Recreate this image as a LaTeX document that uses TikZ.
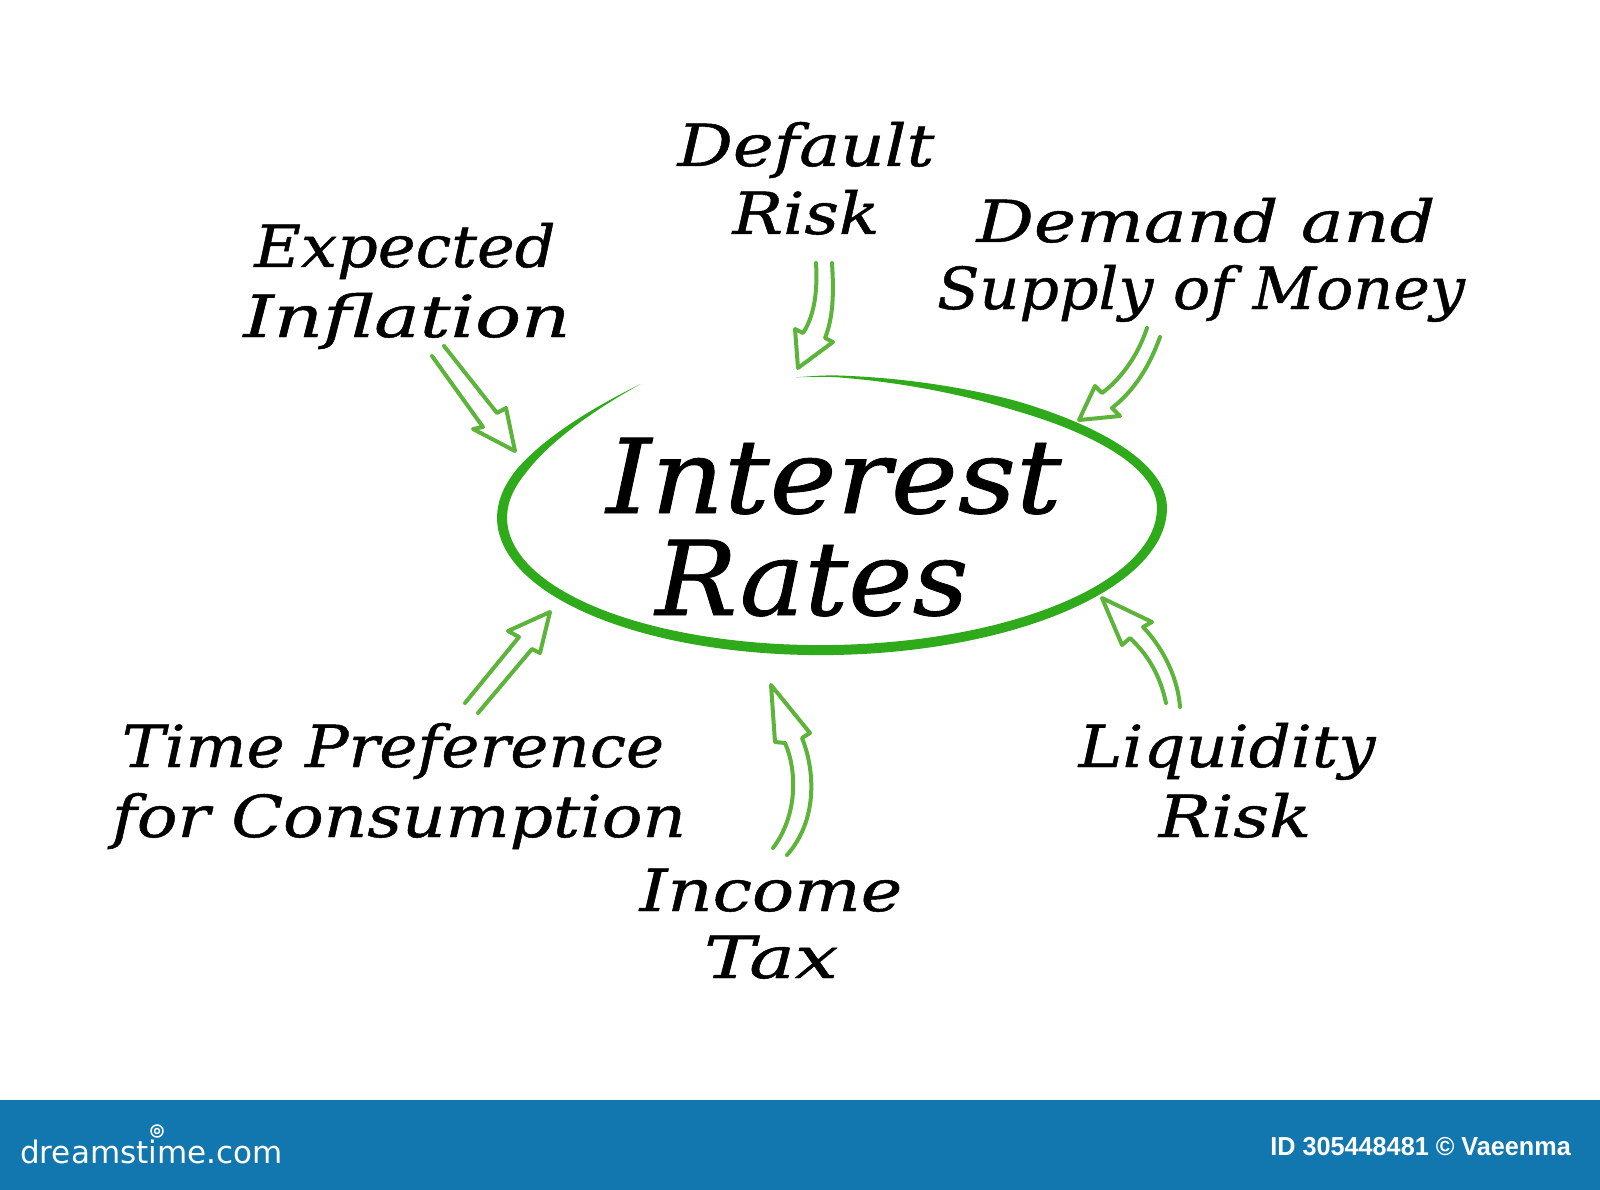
\documentclass[tikz,border=0pt]{standalone}
\usepackage{fontspec}
\setmainfont{DejaVu Serif}
\newfontfamily\handfont{DejaVu Serif}[FakeStretch=1.1,FakeBold=0.8]
\newfontfamily\barfont{Liberation Sans}[FakeStretch=0.97]
\definecolor{ringgreen}{HTML}{2FAA1A}
\definecolor{arrowgreen}{HTML}{5DB43A}
\definecolor{barblue}{HTML}{1177AE}
\tikzset{
  lbl/.style={font=\handfont\itshape\fontsize{58}{70}\selectfont, anchor=base, inner sep=0pt, text=black},
  biglbl/.style={font=\handfont\itshape\fontsize{103}{120}\selectfont, anchor=base, inner sep=0pt, text=black},
  hollow/.style={draw=arrowgreen, line width=4pt, line join=round, line cap=round, fill=white},
  bartext/.style={font=\barfont\bfseries\fontsize{26}{30}\selectfont, text=white, inner sep=0pt}
}
\begin{document}
\begin{tikzpicture}[x=1pt,y=-1pt]
\useasboundingbox (0,0) rectangle (1600,1190);
\fill[white] (0,0) rectangle (1600,1190);

% ring: tapered hand-drawn ellipse
\begin{scope}[rotate around={1:(832,513)}]
\fill[ringgreen]
  plot[domain=-96:235, samples=140, smooth]
   ({832+(330+5*min(1,(\x+96)/40)*min(1,(235-\x)/35))*cos(\x)},
    {513+(137+5*min(1,(\x+96)/40)*min(1,(235-\x)/35))*sin(\x)-20*(max(0,\x-195)/40)^2+20*max(0,-sin(\x))*max(0,cos(\x))})
  -- plot[domain=235:-96, samples=140, smooth]
   ({832+(330-5*min(1,(\x+96)/40)*min(1,(235-\x)/35))*cos(\x)},
    {513+(137-5*min(1,(\x+96)/40)*min(1,(235-\x)/35))*sin(\x)-20*(max(0,\x-195)/40)^2+20*max(0,-sin(\x))*max(0,cos(\x))})
  -- cycle;
\end{scope}

% labels
\node[lbl, xscale=1.08] (def1) at (806,166) {Default};
\node[lbl, xscale=1.05] (def2) at (806,234) {Risk};
\node[lbl] (exp1) at (405,267) {Expected};
\node[lbl, xscale=1.2] (exp2) at (407,337) {Inflation};
\node[lbl, xscale=1.12] (dem1) at (1206,242) {Demand and};
\node[lbl, xscale=0.97] (dem2) at (1201,309) {Supply of Money};
\node[biglbl] (int1) at (834,513) {Interest};
\node[biglbl, xscale=0.96] (int2) at (812,615) {Rates};
\node[lbl, xscale=1.01] (tim1) at (393,767) {Time Preference};
\node[lbl, xscale=1.06] (tim2) at (399,837) {for Consumption};
\node[lbl, xscale=1.1] (inc1) at (771,911) {Income};
\node[lbl, xscale=1.2] (inc2) at (771,978) {Tax};
\node[lbl, xscale=1.03] (liq1) at (1227,767) {Liquidity};
\node[lbl, xscale=1.09] (liq2) at (1235,837) {Risk};

% hollow arrows
\draw[hollow] (432,356) -- (483,427) -- (473,429) -- (515,451) -- (506,408) -- (497,413) -- (444,346);
\draw[hollow] (816,263) .. controls (818,295) and (813,318) .. (803,333) -- (795,329) -- (798,368)
  -- (833,342) -- (825,338) .. controls (833,318) and (834,295) .. (832,263);
\draw[hollow] (1147,328) .. controls (1138,355) and (1122,378) .. (1102,393) -- (1095,386) -- (1079,420)
  -- (1120,416) -- (1112,408) .. controls (1135,390) and (1150,365) .. (1160,337);
\draw[hollow] (465,703) -- (519,637) -- (508,631) -- (550,612) -- (540,653) -- (532,649) -- (478,713);
\draw[hollow] (773,848) .. controls (798,815) and (797,770) .. (785,743) -- (775,742) -- (771,685)
  -- (810,733) -- (802,738) .. controls (815,770) and (818,820) .. (787,855);
\draw[hollow] (1166,703) .. controls (1160,675) and (1148,655) .. (1130,638) -- (1122,645) -- (1102,598)
  -- (1152,622) -- (1143,627) .. controls (1165,650) and (1178,680) .. (1180,707);

% bottom bar
\fill[barblue] (0,1100) rectangle (1600,1190);
\node[font=\fontspec{DejaVu Sans}\fontsize{31}{36}\selectfont, text=white, anchor=base west, inner sep=0pt] (brand) at (20,1163) {dreamstime.com};
\draw[white, line width=1.5pt] (157,1131) circle (6) (157,1131) circle (2.5);
\node[bartext, anchor=base east] (credit) at (1571,1155) {ID 305448481 © Vaeenma};
\end{tikzpicture}
\end{document}
